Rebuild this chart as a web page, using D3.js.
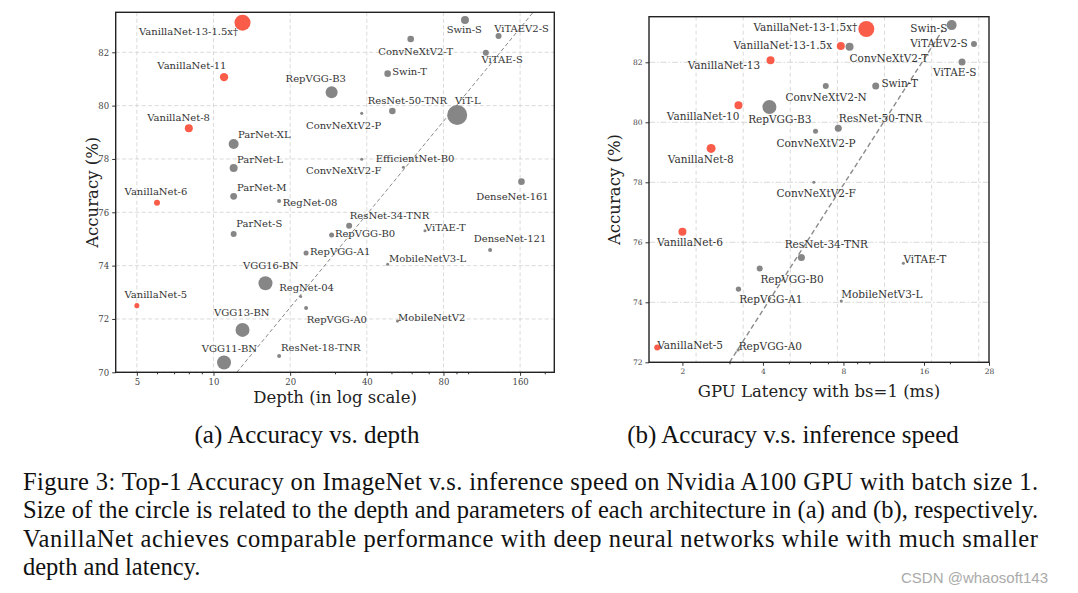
<!DOCTYPE html>
<html>
<head>
<meta charset="utf-8">
<script src="https://cdn.jsdelivr.net/npm/d3@7/dist/d3.min.js"></script>
<style>
  body { margin: 0; background: #fff; }
  svg { display: block; }
  .tick text { font-family: "DejaVu Serif", serif; fill: #444; }
  .lbl { font-family: "DejaVu Serif", serif; fill: #333; }
  .axlabel { font-family: "DejaVu Serif", serif; fill: #222; font-size: 16.5px; }
  .cap { font-family: "Liberation Serif", "Times New Roman", serif; fill: #111; }
</style>
</head>
<body>
<script>
// ---- (a) accuracy vs depth ----
var depthNames = ["VanillaNet-5","VanillaNet-6","VanillaNet-8","VanillaNet-11","VanillaNet-13-1.5x\u2020",
  "ParNet-XL","ParNet-L","ParNet-M","ParNet-S","RegNet-08","RepVGG-A1","RepVGG-B0","ResNet-34-TNR",
  "VGG16-BN","VGG13-BN","VGG11-BN","RegNet-04","RepVGG-A0","ResNet-18-TNR","RepVGG-B3",
  "ConvNeXtV2-P","ConvNeXtV2-F","ConvNeXtV2-T","Swin-S","ViTAEV2-S","ViTAE-S","Swin-T",
  "ResNet-50-TNR","ViT-L","EfficientNet-B0","DenseNet-161","DenseNet-121","ViTAE-T","MobileNetV3-L","MobileNetV2"];
var depthValues = [5,6,8,11,13, 12,12,12,12,18.1,23.1,29.1,34.1, 16,13,11,22,23.1,18.1,29.1,
  38.2,38.2,59.5,97.2,131.7,117.4,48.3, 50.4,90.6,55.7,162,122,67.7,48.3,52.8];
var depthAcc = [72.5,76.36,79.15,81.07,83.11, 78.56,77.66,76.6,75.19,76.42,74.47,75.15,75.5,
  73.34,71.59,70.37,72.84,72.41,70.61,80.5, 79.71,77.99,82.5,83.21,82.61,81.98,81.2,
  79.8,79.65,77.69,77.15,74.59,75.31,74.05,71.92];
var depthParams = [19,27,48,53,192, 75,48,35,27,12,19,19,27, 147,147,147,7,12,12,108,
  7,7,33,48,27,27,33, 33,300,7,33,12,7,7,7];
var depthTicks = [5,10,20,40,80,160];
var depthMinor = [6,7,8,9,30,50,60,70,90,100,200];
var accTicksA = [70,72,74,76,78,80,82];
var depthTrend = [[12.35,70],[180,83.5]];

// label placement for (a): [dx, dy, anchor]
var depthLabelPos = [[-12.4,-7.4],[-32.4,-7.7],[-41.6,-7.6],[-66.7,-8],[-4.5,12.3,"end"],
  [4.4,-5.7],[3.4,-5.3],[3.4,-5.3],[2.7,-6.7],[3.7,4.7],[4,1.5],[3.3,1.7],[0.7,-6.4],
  [-22.4,-14.3],[-28.4,-14],[-22.3,-10.6],[-21.4,-6],[0.7,14.7],[2,-5.3],[-46,-10.6],
  [-55.7,15.7],[-55.7,15],[-32.4,16],[-18.3,13.3],[-4.4,-3.7],[-4.3,10.6],[4.6,1],
  [-24.6,-6.7],[-2.3,-10.7],[-27.6,-5.6],[-45.3,18.3],[-16.4,-8.3],[0,0],[1.3,-2.6],[0.6,0]];

// ---- (b) accuracy vs latency ----
var latNames = ["VanillaNet-5","VanillaNet-6","VanillaNet-8","VanillaNet-10","VanillaNet-13",
  "VanillaNet-13-1.5x","VanillaNet-13-1.5x\u2020","ConvNeXtV2-T","ConvNeXtV2-N","RepVGG-B3",
  "ConvNeXtV2-P","ResNet-50-TNR","ConvNeXtV2-F","Swin-S","ViTAEV2-S","ViTAE-S","Swin-T",
  "ResNet-34-TNR","RepVGG-B0","RepVGG-A1","RepVGG-A0","MobileNetV3-L","ViTAE-T"];
var latValues = [1.61,2.0,2.56,3.24,4.27,7.82,9.74,8.43,6.87,4.23,6.29,7.65,6.2,20.3,24.6,22.2,
  10.56,5.57,3.89,3.24,3.23,7.85,13.4];
var latAcc = [72.49,76.35,79.13,80.57,82.07,82.54,83.11,82.52,81.21,80.51,79.7,79.8,78.0,
  83.24,82.61,82.01,81.21,75.49,75.13,74.44,72.41,74.04,75.3];
var latParams = [27,48,61,48,48,48,192,48,27,147,19,37,7,75,27,37,37,37,27,22,7,7,7];
var latTicks = [2,4,8,16,28];
var latMinor = [3,5,6,7,9,10,20];
var latGrid = [2.25,3.375,5.0625,7.594,11.39,17.09,25.63];
var accTicksB = [72,74,76,78,80,82];
var latTrend = [[3.0,72],[18.8,83.08]];

var latLabelPos = [[0,1],[-25.4,14.3],[-43.3,15],[-71.6,14.7],[-10.3,9,"end"],[-8.6,3,"end"],
  [-9,1.7,"end"],[0,15],[-40.3,15],[-21.3,16.3],[-39,15.4],[0.6,-6.6],[-37.3,14.4],
  [-4.3,6.7,"end"],[-6.3,2.7,"end"],[-29,14],[5.7,1],[-16.7,-9.4],[0.7,14.4],[0.7,14.3],
  [0.6,0],[0,-2.7],[0,0]];

var W = 1078, H = 593;
var svg = d3.select("body").append("svg").attr("width", W).attr("height", H);

var rScale = d3.scaleSqrt().domain([0, 300]).range([0, 10]);

function drawPanel(o)
{
  var x = d3.scaleLog().domain(o.xDomain).range([o.left, o.right]);
  var y = d3.scaleLinear().domain(o.yDomain).range([o.bottom, o.top]);
  var g = svg.append("g");

  // grid
  g.selectAll("line.vg").data(o.xGrid).enter().append("line")
    .attr("x1", function(d) { return x(d); }).attr("x2", function(d) { return x(d); })
    .attr("y1", o.top).attr("y2", o.bottom)
    .attr("stroke", "#d0d0d0").attr("stroke-width", 0.8).attr("stroke-dasharray", o.vDash);
  g.selectAll("line.hg").data(o.yTicks).enter().append("line")
    .attr("x1", o.left).attr("x2", o.right)
    .attr("y1", function(d) { return y(d); }).attr("y2", function(d) { return y(d); })
    .attr("stroke", "#d0d0d0").attr("stroke-width", 0.8).attr("stroke-dasharray", o.hDash);

  // trend line
  g.append("path").datum(o.trend)
    .attr("d", d3.line().x(function(d) { return x(d[0]); }).y(function(d) { return y(d[1]); }))
    .attr("fill", "none").attr("stroke", "#8a8a8a").attr("stroke-width", o.trendW)
    .attr("stroke-dasharray", o.trendDash);

  var pts = o.names.map(function(n, i) {
    return { name: n, xv: o.xs[i], acc: o.acc[i], p: o.params[i], pos: o.pos[i] };
  });

  g.selectAll("circle.pt").data(pts).enter().append("circle")
    .attr("cx", function(d) { return x(d.xv); })
    .attr("cy", function(d) { return y(d.acc); })
    .attr("r", function(d) { return rScale(d.p); })
    .attr("fill", function(d) { return d.name.indexOf("VanillaNet") == 0 ? "#fa5340" : "#808080"; })
    .attr("fill-opacity", 0.95);

  g.selectAll("text.lbl").data(pts).enter().append("text")
    .attr("class", "lbl")
    .attr("x", function(d) { return x(d.xv) + d.pos[0]; })
    .attr("y", function(d) { return y(d.acc) + d.pos[1]; })
    .attr("text-anchor", function(d) { return d.pos[2] || "start"; })
    .style("font-size", o.lblSize + "px")
    .text(function(d) { return d.name; });

  // axes
  var xa = g.append("g").attr("transform", "translate(0," + o.bottom + ")")
    .call(d3.axisBottom(x).tickValues(o.xTicks).tickFormat(d3.format("d")).tickSize(3.5).tickPadding(3));
  xa.selectAll("text").style("font-size", o.tickSize + "px");
  g.append("g").attr("transform", "translate(0," + o.bottom + ")")
    .call(d3.axisBottom(x).tickValues(o.xMinor.filter(function(v) { return v > o.xDomain[0] && v < o.xDomain[1]; }))
      .tickFormat("").tickSize(2));
  var ya = g.append("g").attr("transform", "translate(" + o.left + ",0)")
    .call(d3.axisLeft(y).tickValues(o.yTicks).tickFormat(d3.format("d")).tickSize(3.5).tickPadding(3));
  ya.selectAll("text").style("font-size", o.tickSize + "px");
  g.selectAll(".domain").remove();
  g.selectAll(".tick line").attr("stroke", "#333");

  g.append("rect").attr("x", o.left).attr("y", o.top)
    .attr("width", o.right - o.left).attr("height", o.bottom - o.top)
    .attr("fill", "none").attr("stroke", "#222").attr("stroke-width", 1.4);

  g.append("text").attr("class", "axlabel")
    .attr("x", (o.left + o.right) / 2).attr("y", o.xLabelY)
    .attr("text-anchor", "middle").text(o.xLabel);
  g.append("text").attr("class", "axlabel")
    .attr("transform", "translate(" + o.yLabelX + "," + (o.top + o.bottom) / 2 + ") rotate(-90)")
    .attr("text-anchor", "middle").text("Accuracy (%)");
}

drawPanel({
  left: 115.7, right: 554.3, top: 12.3, bottom: 372.3,
  xDomain: [4.13, 218], yDomain: [70, 83.5],
  names: depthNames, xs: depthValues, acc: depthAcc, params: depthParams, pos: depthLabelPos,
  xTicks: depthTicks, xMinor: depthMinor, xGrid: depthTicks, yTicks: accTicksA,
  trend: depthTrend, trendW: 1, trendDash: "4,2.5",
  vDash: "4,2.5", hDash: "4,2.5",
  lblSize: 10, tickSize: 8.5,
  xLabel: "Depth (in log scale)", xLabelY: 403, yLabelX: 98
});

drawPanel({
  left: 649, right: 989, top: 16.7, bottom: 362.3,
  xDomain: [1.5, 28], yDomain: [72, 83.52],
  names: latNames, xs: latValues, acc: latAcc, params: latParams, pos: latLabelPos,
  xTicks: latTicks, xMinor: latMinor, xGrid: latGrid, yTicks: accTicksB,
  trend: latTrend, trendW: 1.4, trendDash: "5,3",
  vDash: "4,3", hDash: "6,2,1.5,2",
  lblSize: 10.5, tickSize: 7.5,
  xLabel: "GPU Latency with bs=1 (ms)", xLabelY: 397, yLabelX: 620
});

// captions
svg.append("text").attr("class", "cap").attr("x", 307).attr("y", 443)
  .attr("text-anchor", "middle").style("font-size", "25px").text("(a) Accuracy vs. depth");
svg.append("text").attr("class", "cap").attr("x", 793).attr("y", 443)
  .attr("text-anchor", "middle").style("font-size", "25px").text("(b) Accuracy v.s. inference speed");

var captionLines = [
  "Figure 3: Top-1 Accuracy on ImageNet v.s. inference speed on Nvidia A100 GPU with batch size 1.",
  "Size of the circle is related to the depth and parameters of each architecture in (a) and (b), respectively.",
  "VanillaNet achieves comparable performance with deep neural networks while with much smaller",
  "depth and latency."
];
captionLines.forEach(function(t, i) {
  var tx = svg.append("text").attr("class", "cap")
    .attr("x", 23).attr("y", 490 + i * 28.4)
    .style("font-size", "24.5px").text(t);
  if (i < 3) tx.attr("textLength", 1015).attr("lengthAdjust", "spacing");
});

svg.append("text").attr("x", 1048).attr("y", 583).attr("text-anchor", "end")
  .style("font-family", "Liberation Sans, Arial, sans-serif").style("font-size", "15px")
  .attr("fill", "#aaa").text("CSDN @whaosoft143");
</script>
</body>
</html>
